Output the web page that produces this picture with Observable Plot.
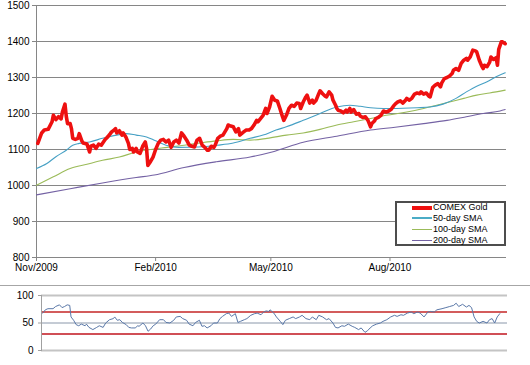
<!DOCTYPE html>
<html>
<head>
<meta charset="utf-8">
<script src="https://cdn.jsdelivr.net/npm/d3@7"></script>
<script src="https://cdn.jsdelivr.net/npm/@observablehq/plot@0.6"></script>
<style>
  html, body { margin: 0; padding: 0; background: #fff; }
  #wrap { position: relative; width: 530px; height: 365px; overflow: hidden; background: #fff;
          font-family: "Liberation Sans", Arial, sans-serif; }
  #main { position: absolute; left: 0; top: 0; }
  #rsi { position: absolute; left: 0; top: 285px; width: 530px; border-top: 1px solid #a6a6a6; }
  #legend { position: absolute; left: 395px; top: 201px; width: 111px; height: 45px; box-sizing: border-box;
            border: 2px solid #4d4d4d; background: #fff; font-size: 9px; color: #000; }
  .row { position: absolute; left: 0; height: 11px; width: 108px; }
  .swatch { position: absolute; left: 15px; width: 20px; }
  .lab { position: absolute; left: 36px; top: 0; line-height: 11px; white-space: nowrap; }
</style>
</head>
<body>
<div id="wrap">
  <div id="main"></div>
  <div id="rsi"></div>
  <div id="legend"></div>
</div>
<script>
// ---------- data (days since 1 Nov 2009) ----------
const startDate = "2009-11-01";
const endDay = 363;

const goldDays = [1,4,6,9,12,13,15,17,19,20,22,23,24,26,27,28,30,32,33,35,36,39,41,42,44,46,48,50,53,55,57,58,60,61,62,64,66,67,69,71,72,74,75,77,78,80,82,84,85,86,88,90,92,94,96,98,100,102,104,106,108,110,112,114,116,118,120,122,124,126,128,130,132,133,135,137,138,140,142,144,147,148,150,152,154,156,157,160,162,164,166,168,170,171,173,175,177,178,180,182,184,186,188,190,191,193,195,197,199,201,203,204,206,208,209,211,213,214,216,218,219,221,223,224,226,228,229,231,232,233,235,237,239,240,242,243,245,247,249,250,252,254,256,258,259,261,262,264,266,268,270,272,274,276,277,279,281,283,285,286,288,290,292,294,296,297,299,301,303,304,306,308,310,312,313,315,317,319,321,322,324,326,328,330,332,333,335,337,339,340,342,344,345,346,348,350,351,353,355,356,357,359,360,362];
const goldPrice = [1117,1146,1154,1156,1177,1195,1183,1191,1185,1204,1226,1192,1172,1172,1158,1131,1128,1131,1144,1124,1118,1115,1093,1109,1112,1103,1115,1112,1128,1135,1144,1149,1154,1158,1146,1152,1140,1146,1135,1117,1100,1103,1093,1103,1093,1089,1109,1121,1103,1056,1066,1079,1100,1117,1126,1128,1121,1126,1106,1121,1126,1118,1146,1137,1126,1112,1109,1107,1126,1131,1112,1106,1098,1098,1109,1106,1112,1131,1137,1140,1158,1168,1165,1163,1149,1158,1140,1149,1154,1154,1158,1168,1181,1177,1186,1195,1214,1200,1218,1248,1237,1235,1214,1191,1181,1195,1214,1223,1220,1229,1228,1214,1232,1246,1251,1229,1237,1229,1237,1255,1263,1255,1248,1246,1260,1251,1237,1223,1214,1209,1207,1202,1209,1204,1214,1204,1211,1198,1200,1193,1189,1191,1181,1163,1172,1179,1186,1189,1195,1207,1204,1207,1212,1222,1226,1232,1235,1229,1237,1242,1237,1243,1254,1257,1255,1260,1254,1257,1248,1246,1272,1279,1283,1274,1285,1297,1300,1304,1311,1320,1325,1320,1339,1348,1353,1348,1357,1376,1374,1371,1348,1331,1325,1334,1330,1343,1357,1350,1355,1334,1378,1399,1399,1394];

const sma50Days = [0,8,15,23,28,33,41,51,62,69,77,85,92,100,110,125,140,152,165,175,185,193,206,219,232,242,250,258,268,274,294,304,314,324,332,340,348,355,362];
const sma50 = [1047,1061,1080,1098,1112,1117,1121,1131,1140,1144,1140,1135,1124,1112,1106,1107,1112,1118,1131,1140,1154,1163,1181,1200,1218,1223,1220,1216,1214,1214,1216,1218,1226,1242,1260,1276,1288,1302,1313];

const sma100Days = [0,13,26,39,51,64,77,88,101,114,126,139,152,165,178,193,206,219,232,245,258,270,286,299,309,319,330,340,350,362];
const sma100 = [1001,1024,1047,1059,1070,1079,1093,1100,1106,1112,1118,1124,1128,1126,1131,1140,1146,1156,1168,1177,1186,1195,1204,1214,1223,1232,1242,1251,1257,1265];

const sma200Days = [0,26,51,77,91,114,139,165,182,206,232,258,277,299,317,332,345,358,362];
const sma200 = [974,991,1007,1022,1029,1050,1066,1079,1093,1120,1137,1154,1162,1172,1181,1191,1200,1207,1211];

const rsiDays = [1,3,5,9,11,14,16,18,20,22,23,25,27,29,31,34,35,37,40,43,45,48,50,53,56,57,59,61,63,66,68,70,73,75,76,79,81,83,85,87,89,92,95,97,100,103,105,108,110,113,115,118,120,123,125,127,129,132,134,137,139,141,144,146,148,151,153,155,158,160,163,166,168,171,173,175,177,178,181,183,186,188,190,193,196,198,201,203,206,209,211,214,216,219,222,224,227,229,231,234,236,239,242,244,247,249,252,254,256,258,261,264,266,269,272,275,277,280,282,285,288,290,293,295,298,301,303,306,308,312,315,318,321,323,325,328,331,333,335,337,339,341,344,347,349,351,353,355,357];
const rsi = [68,74,76,76,80,83,78,80,83,82,61,55,47,45,48,45,48,42,38,42,45,42,50,56,58,61,55,56,51,47,42,41,41,45,44,50,45,35,39,45,48,56,56,51,50,55,61,62,58,55,48,45,51,55,44,45,41,45,50,50,58,62,67,68,62,67,51,53,56,58,64,67,68,65,70,72,71,74,68,61,53,47,55,58,61,58,61,64,58,56,61,56,64,61,56,58,50,42,41,45,44,48,44,42,38,41,33,36,41,45,48,50,53,56,61,64,62,65,64,68,70,67,70,68,61,70,71,70,74,76,78,80,82,86,80,84,79,82,78,61,53,50,53,50,56,58,50,61,67];
const rsiLevels = [70, 30];

const yTicks = [800, 900, 1000, 1100, 1200, 1300, 1400, 1500];
const rsiTicks = [0, 50, 100];
const xTickDates = ["2009-11-01", "2010-02-01", "2010-05-01", "2010-08-01"];
const seriesNames = ["COMEX Gold", "50-day SMA", "100-day SMA", "200-day SMA"];

// ---------- helpers ----------
const start = new Date(startDate + "T00:00:00");
const toDate = d => d3.timeDay.offset(start, d);
const parse = s => new Date(s + "T00:00:00");
const rows = (days, vals) => days.map((d, i) => ({date: toDate(d), value: vals[i]}));

const gold = rows(goldDays, goldPrice);
const s50 = rows(sma50Days, sma50);
const s100 = rows(sma100Days, sma100);
const s200 = rows(sma200Days, sma200);
const rsiData = rows(rsiDays, rsi);
const xDomain = [start, toDate(endDay)];

const colors = {gold: "#ee1010", s50: "#46a0c4", s100: "#9bbb59", s200: "#7462a4", rsi: "#5a78a8"};
const gridColor = "#868686";
const fmt = d3.timeFormat("%b/%Y");

const style = {fontFamily: "'Liberation Sans', Arial, sans-serif", fontSize: "10px", color: "#000", background: "transparent", overflow: "visible"};

// ---------- main chart ----------
const main = Plot.plot({
  width: 530, height: 285,
  marginLeft: 36, marginRight: 24, marginTop: 5, marginBottom: 28,
  style,
  x: {type: "time", domain: xDomain, label: null},
  y: {domain: [800, 1500], label: null},
  marks: [
    Plot.gridY(yTicks, {stroke: gridColor, strokeOpacity: 1}),
    Plot.axisY(yTicks, {tickSize: 4, tickPadding: 3, stroke: gridColor, fill: "#000", tickFormat: d => String(d)}),
    Plot.axisX(xTickDates.map(parse), {tickSize: 4, tickPadding: 2, stroke: gridColor, fill: "#000", tickFormat: fmt}),
    Plot.frame({anchor: "left", stroke: gridColor}),
    Plot.line(s200, {x: "date", y: "value", stroke: colors.s200, strokeWidth: 1.1, curve: "monotone-x"}),
    Plot.line(s100, {x: "date", y: "value", stroke: colors.s100, strokeWidth: 1.1, curve: "monotone-x"}),
    Plot.line(s50, {x: "date", y: "value", stroke: colors.s50, strokeWidth: 1.1, curve: "monotone-x"}),
    Plot.line(gold, {x: "date", y: "value", stroke: colors.gold, strokeWidth: 3.6, strokeLinejoin: "round", strokeLinecap: "round"})
  ]
});
document.getElementById("main").appendChild(main);

// ---------- RSI chart ----------
const rsiPlot = Plot.plot({
  width: 530, height: 80,
  marginLeft: 41, marginRight: 23, marginTop: 9, marginBottom: 16,
  style,
  x: {type: "time", domain: xDomain, label: null, axis: null},
  y: {domain: [0, 100], label: null},
  marks: [
    Plot.ruleY([0, 100], {stroke: "#c4c4c4", strokeWidth: 2}),
    Plot.ruleY([50], {stroke: "#8a97aa", strokeWidth: 1}),
    Plot.ruleY([rsiLevels[0]], {stroke: "#d35c5c", strokeWidth: 2}),
    Plot.ruleY([rsiLevels[1]], {stroke: "#c0141e", strokeWidth: 1.4}),
    Plot.axisY(rsiTicks, {tickSize: 3, tickPadding: 5, stroke: "#a0a0a0", fill: "#000"}),
    Plot.frame({anchor: "left", stroke: "#a0a0a0"}),
    Plot.line(rsiData, {x: "date", y: "value", stroke: colors.rsi, strokeWidth: 1})
  ]
});
document.getElementById("rsi").appendChild(rsiPlot);

// ---------- legend ----------
const legend = document.getElementById("legend");
const swatch = [
  {c: colors.gold, w: 4},
  {c: "#4bacc6", w: 2},
  {c: colors.s100, w: 1},
  {c: colors.s200, w: 1}
];
seriesNames.forEach((name, i) => {
  const row = document.createElement("div");
  row.className = "row";
  row.style.top = (-1 + i * 10.9) + "px";
  const sw = document.createElement("div");
  sw.className = "swatch";
  sw.style.background = swatch[i].c;
  sw.style.height = swatch[i].w + "px";
  sw.style.top = (5.5 - swatch[i].w / 2) + "px";
  const lab = document.createElement("div");
  lab.className = "lab";
  lab.textContent = name;
  row.appendChild(sw);
  row.appendChild(lab);
  legend.appendChild(row);
});
</script>
</body>
</html>
